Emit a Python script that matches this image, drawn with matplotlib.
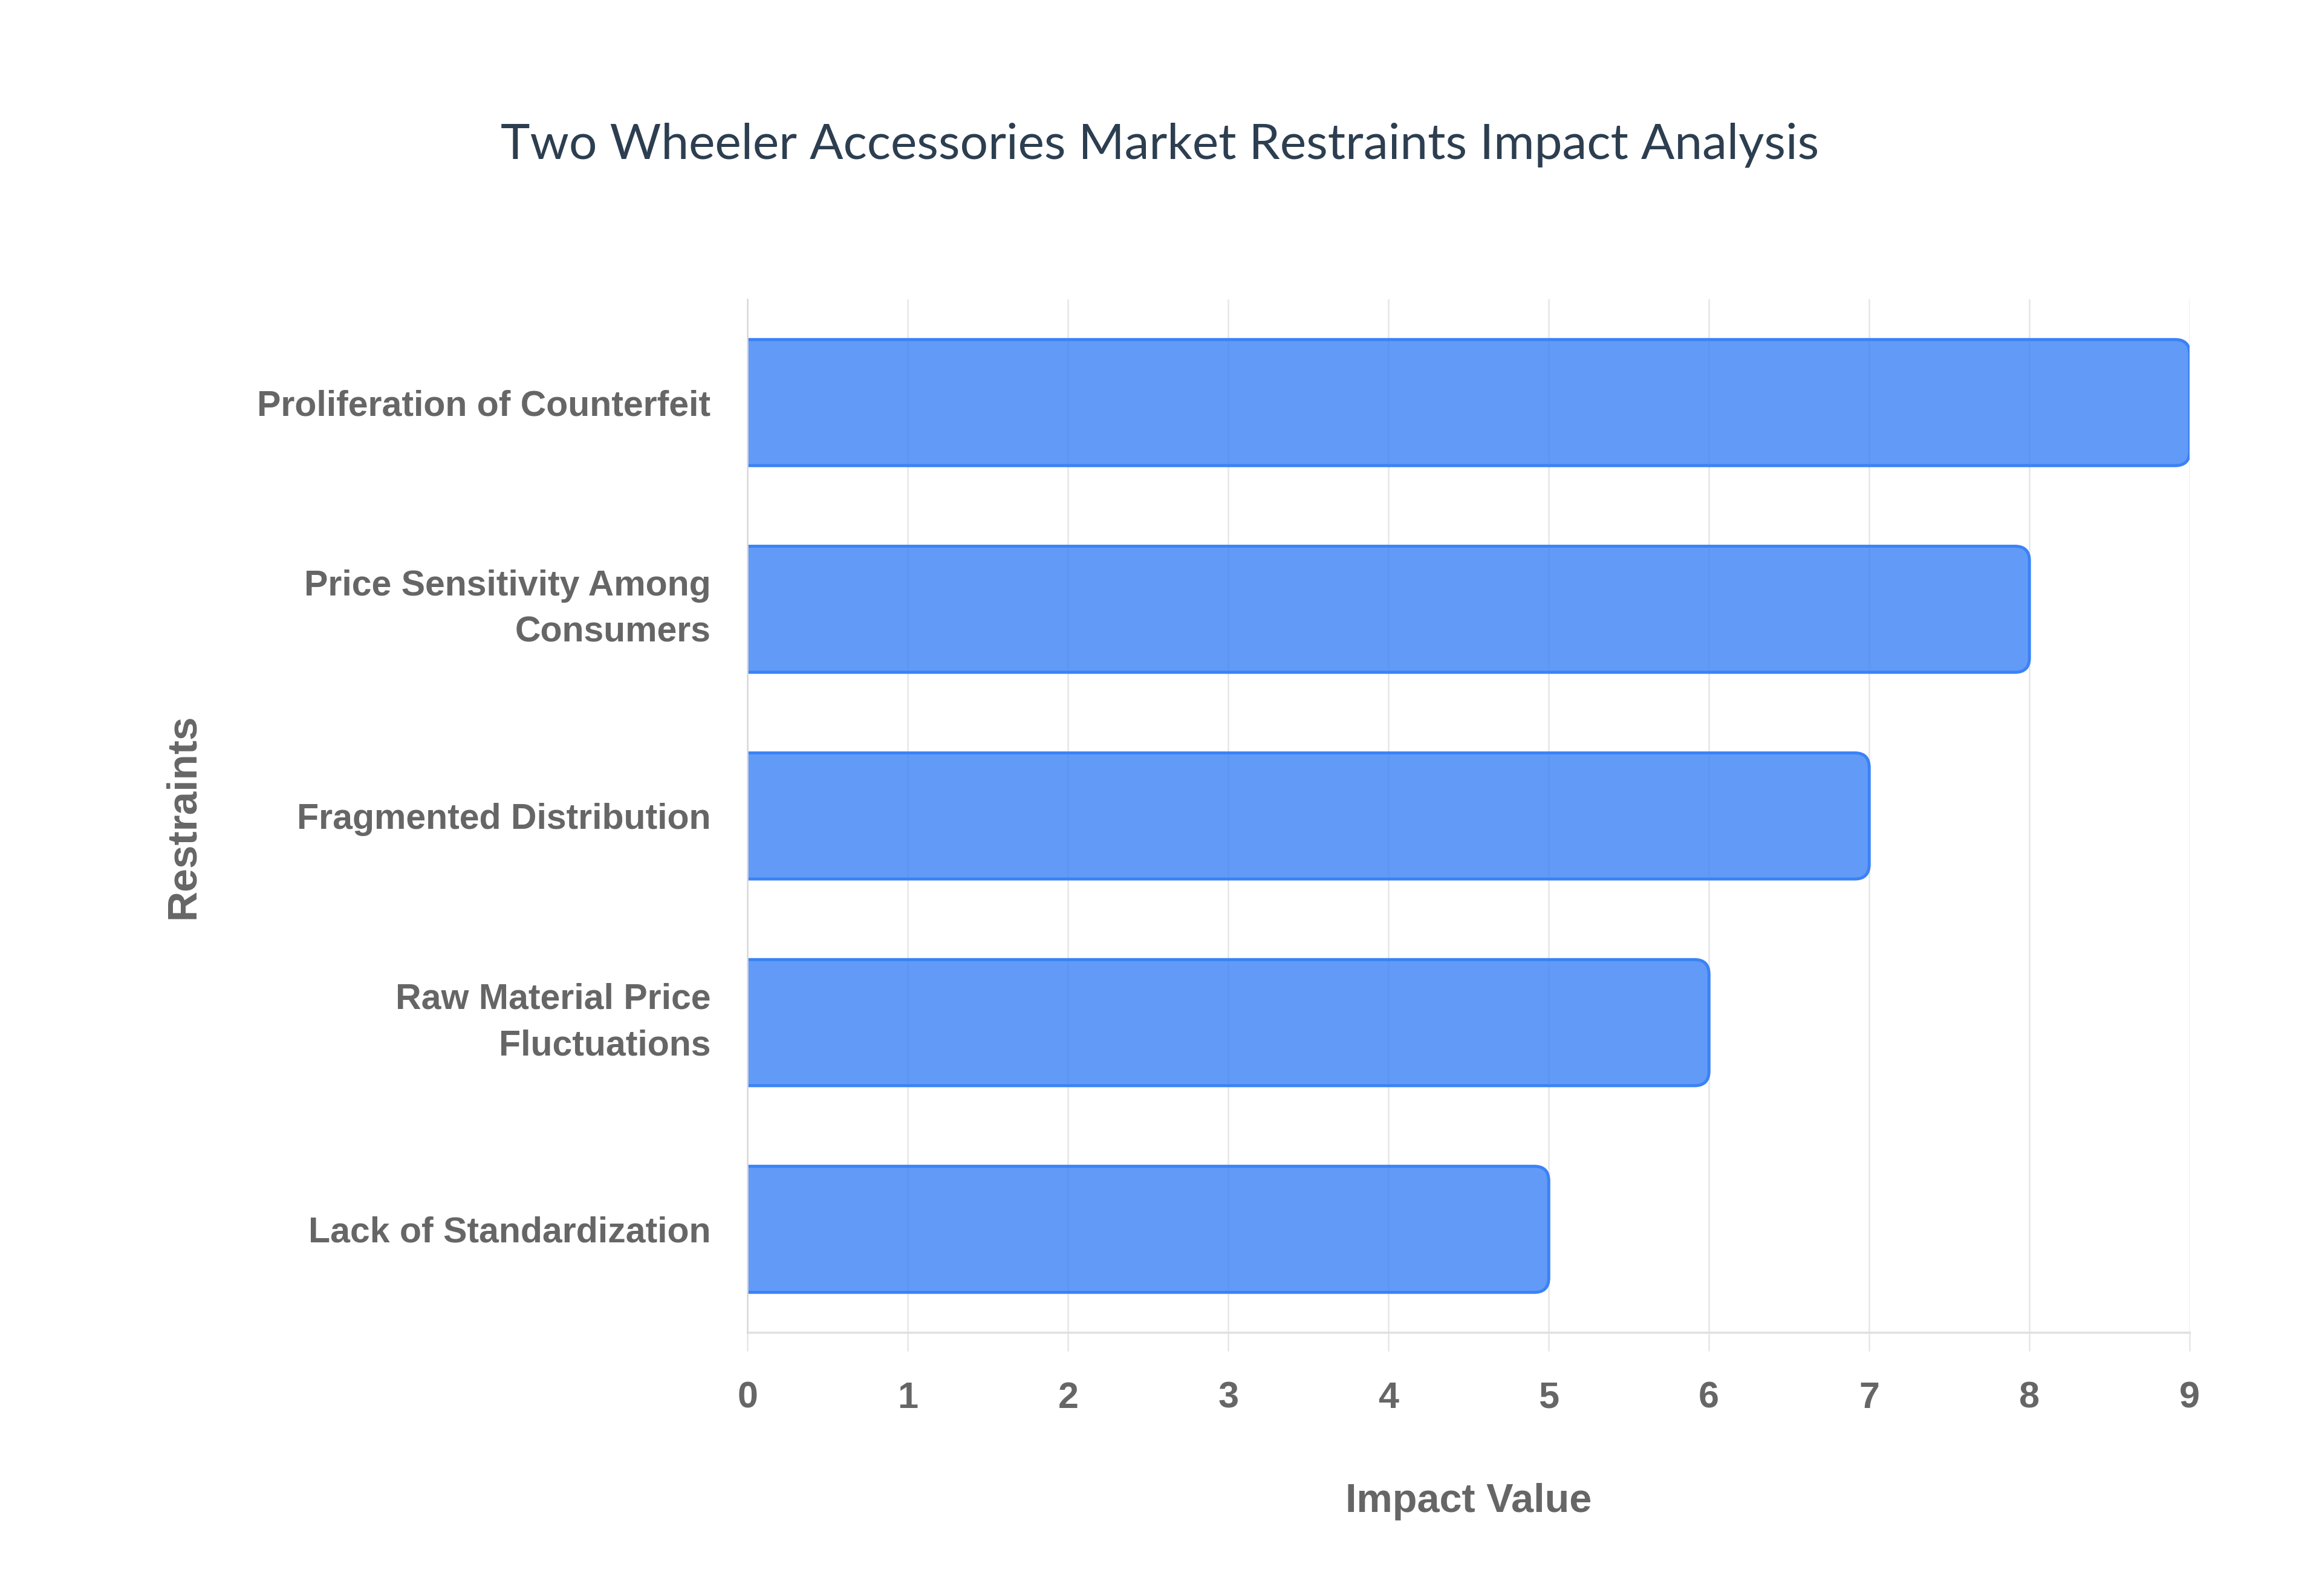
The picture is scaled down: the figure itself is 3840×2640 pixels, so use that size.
import matplotlib.pyplot as plt
from matplotlib.patches import FancyBboxPatch

# Data
restraints = [
    "Proliferation of Counterfeit",
    "Price Sensitivity Among\nConsumers",
    "Fragmented Distribution",
    "Raw Material Price\nFluctuations",
    "Lack of Standardization",
]
impact = [9, 8, 7, 6, 5]
x_ticks = [0, 1, 2, 3, 4, 5, 6, 7, 8, 9]

title = "Two Wheeler Accessories Market Restraints Impact Analysis"
bar_face = (59 / 255, 130 / 255, 246 / 255, 0.8)
bar_edge = "#3b82f6"
label_gray = "#666666"
grid_gray = "#e6e6e6"

plt.rcParams['font.family'] = ['Liberation Sans', 'DejaVu Sans']

fig = plt.figure(figsize=(38.4, 26.4), dpi=100)
ax = fig.add_axes([0.322, 0.165, 0.621, 0.6475])

bar_h = 0.61
ax.set_xlim(0, 9)
ax.set_ylim(len(restraints) - 0.5, -0.5)

# rounded right end, square left end (left side clipped by axes)
for i, v in enumerate(impact):
    box = FancyBboxPatch((-0.3, i - bar_h / 2), v + 0.3, bar_h,
                         boxstyle="round,pad=0,rounding_size=0.09",
                         mutation_aspect=0.78,
                         facecolor=bar_face, edgecolor=bar_edge,
                         linewidth=3.6, zorder=3, clip_on=True)
    ax.add_patch(box)

ax.set_yticks(range(len(restraints)))
ax.set_yticklabels(restraints, fontsize=42.5, fontweight='bold', color=label_gray,
                   linespacing=1.5)
# two-line labels: centre the whole block on the bar
for lbl in ax.get_yticklabels():
    if "\n" in lbl.get_text():
        lbl.set_verticalalignment('center')

ax.set_xticks(x_ticks)
ax.set_xticklabels([str(t) for t in x_ticks], fontsize=44, fontweight='bold',
                   color=label_gray)

ax.tick_params(axis='y', length=0, pad=44)
ax.tick_params(axis='x', length=22, width=1.8, color=grid_gray, pad=36)

ax.grid(axis='x', color=grid_gray, linewidth=1.8, zorder=0)
ax.set_axisbelow(True)

for side in ['top', 'right']:
    ax.spines[side].set_visible(False)
ax.spines['left'].set_color('#d9d9d9')
ax.spines['left'].set_linewidth(1.8)
ax.spines['left'].set_zorder(4)
ax.spines['bottom'].set_color('#e0e0e0')
ax.spines['bottom'].set_linewidth(2.5)

ax.set_xlabel("Impact Value", fontsize=48, fontweight='bold', color=label_gray,
              labelpad=80)
ax.set_ylabel("Restraints", fontsize=50, fontweight='bold', color=label_gray)
ax.yaxis.set_label_coords(-0.378, 0.5, transform=ax.transAxes)

fig.text(0.4995, 0.909, title, ha='center', va='center', fontsize=59,
         color="#2c3e50", family=['Lato', 'DejaVu Sans'])

fig.savefig("out.png", dpi=100, facecolor='white')
